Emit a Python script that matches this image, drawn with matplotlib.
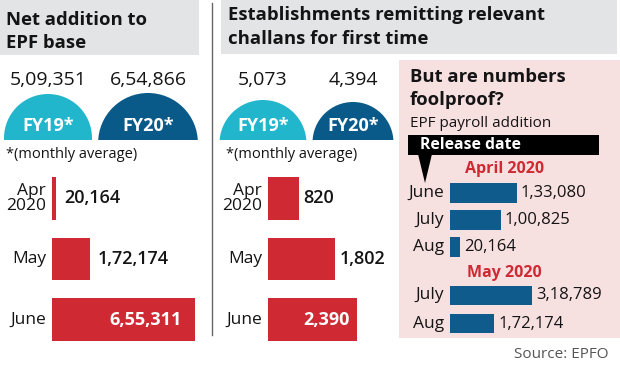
import matplotlib
matplotlib.use("Agg")
import matplotlib.pyplot as plt
from matplotlib.patches import Rectangle, Circle, Polygon

plt.rcParams['font.family'] = ['Open Sans', 'DejaVu Sans']

# ---- data ----
avg_labels = ['FY19*', 'FY20*']
net_avg = [509351, 654866]
est_avg = [5073, 4394]

months = ['Apr\n2020', 'May', 'June']
net_add = [20164, 172174, 655311]
est_new = [820, 1802, 2390]

apr_months = ['June', 'July', 'Aug']
apr_vals = [133080, 100825, 20164]
may_months = ['July', 'Aug']
may_vals = [318789, 172174]

RED = '#cf2a33'
BLUE = '#0f5b8c'
CYAN = '#22b6cd'
NAVY = '#0a5a89'
GREY = '#e3e4e6'
PINK = '#f7e0e0'
INK = '#141414'

W, H = 620, 365
fig = plt.figure(figsize=(W / 100, H / 100), dpi=100)
ax = fig.add_axes([0, 0, 1, 1])
ax.set_xlim(0, W)
ax.set_ylim(H, 0)
ax.axis('off')


def fmt_in(n):
    # indian digit grouping
    s = str(n)
    if len(s) <= 3:
        return s
    head, tail = s[:-3], s[-3:]
    parts = []
    while len(head) > 2:
        parts.insert(0, head[-2:])
        head = head[:-2]
    if head:
        parts.insert(0, head)
    return ','.join(parts) + ',' + tail


def px_axes(x0, y0, x1, y1):
    a = fig.add_axes([x0 / W, 1 - y1 / H, (x1 - x0) / W, (y1 - y0) / H])
    a.axis('off')
    return a


# backgrounds
ax.add_patch(Rectangle((0, 0), 199, 55, color=GREY, lw=0))
ax.add_patch(Rectangle((221, 0), 396, 54, color=GREY, lw=0))
ax.add_patch(Rectangle((399, 60), 221, 278, color=PINK, lw=0))
ax.plot([212, 212], [3, 335], color='#666666', lw=1)

# titles
TS = 13.3
ax.text(6, 25, 'Net addition to', fontsize=TS, fontweight='bold', color=INK, va='baseline')
ax.text(6, 48, 'EPF base', fontsize=TS, fontweight='bold', color=INK, va='baseline')
ax.text(228, 20, 'Establishments remitting relevant', fontsize=TS, fontweight='bold', color=INK, va='baseline')
ax.text(228, 44, 'challans for first time', fontsize=TS, fontweight='bold', color=INK, va='baseline')


# averages as half circles (area ~ value)
def half_circles(vals, centers, r0, tops):
    k = r0 / vals[0] ** 0.5
    clip = Rectangle((0, 0), W, 140, transform=ax.transData)
    for v, cx, top, col, lab in zip(vals, centers, tops, [CYAN, NAVY], avg_labels):
        r = k * v ** 0.5
        c = Circle((cx, top + r), r, color=col, lw=0)
        ax.add_patch(c)
        c.set_clip_path(clip)
        ax.text(cx, 126, lab, fontsize=13, fontweight='bold', color='white', ha='center', va='center')
        ax.text(cx, 85, fmt_in(v), fontsize=14, color=INK, ha='center', va='baseline')


half_circles(net_avg, [48, 148], 44, [94, 93])
half_circles(est_avg, [263, 353], 43.5, [100, 102])
ax.text(6, 155, '*(monthly average)', fontsize=10.5, color=INK, va='center')
ax.text(226, 155, '*(monthly average)', fontsize=10.5, color=INK, va='center')


def bar_group(a, labels, vals, color, height, lab_off, val_off, in_off, inside_max, val_size, val_weight):
    ys = list(range(len(vals)))
    a.barh(ys, vals, height=height, color=color)
    a.set_xlim(0, max(vals))
    for y, lab, v in zip(ys, labels, vals):
        a.annotate(lab, (0, y), xytext=(lab_off, 0), textcoords='offset points',
                   ha='right', va='center', fontsize=12.5, color=INK, linespacing=0.95)
        if inside_max and v == max(vals):
            a.annotate(fmt_in(v), (v, y), xytext=(in_off, 0), textcoords='offset points',
                       ha='right', va='center', color='white', fontweight='bold', fontsize=val_size)
        else:
            a.annotate(fmt_in(v), (v, y), xytext=(val_off, 0), textcoords='offset points',
                       ha='left', va='center', color=INK, fontweight=val_weight, fontsize=val_size)


a1 = px_axes(52, 177, 195, 341)
bar_group(a1, months, net_add, RED, 0.71, -4.3, 5.5, -9.4, True, 13, 'semibold')
a1.set_ylim(2.355, -0.355)

a2 = px_axes(268, 177, 357, 341)
bar_group(a2, months, est_new, RED, 0.71, -4.3, 3.5, -5, True, 13, 'semibold')
a2.set_ylim(2.355, -0.355)

# but are numbers foolproof?
ax.text(410, 82, 'But are numbers', fontsize=TS, fontweight='bold', color=INK, va='baseline')
ax.text(410, 105, 'foolproof?', fontsize=TS, fontweight='bold', color=INK, va='baseline')
ax.text(410, 127, 'EPF payroll addition', fontsize=11, color=INK, va='baseline')
ax.add_patch(Rectangle((408, 135), 191, 20, color='black', lw=0))
ax.add_patch(Polygon([(418, 154), (432, 154), (425, 183)], closed=True, color='black', lw=0))
ax.text(420, 145, 'Release date', fontsize=11.3, fontweight='bold', color='white', va='center')
ax.text(505, 169, 'April 2020', fontsize=11.5, fontweight='bold', color=RED, ha='center', va='center')
ax.text(504, 273, 'May 2020', fontsize=11.5, fontweight='bold', color=RED, ha='center', va='center')

a3 = px_axes(450, 183, 517, 257)
bar_group(a3, apr_months, apr_vals, BLUE, 0.74, -4.3, 2.8, 0, False, 12, 'normal')
a3.set_ylim(2.37, -0.37)

a4 = px_axes(450, 285.5, 532, 333.5)
bar_group(a4, may_months, may_vals, BLUE, 0.67, -4.3, 2.8, 0, False, 12, 'normal')
a4.set_ylim(1.34, -0.34)

ax.text(608, 355, 'Source: EPFO', fontsize=11, color='#555555', ha='right', va='center')

fig.savefig('out.png', dpi=100)
